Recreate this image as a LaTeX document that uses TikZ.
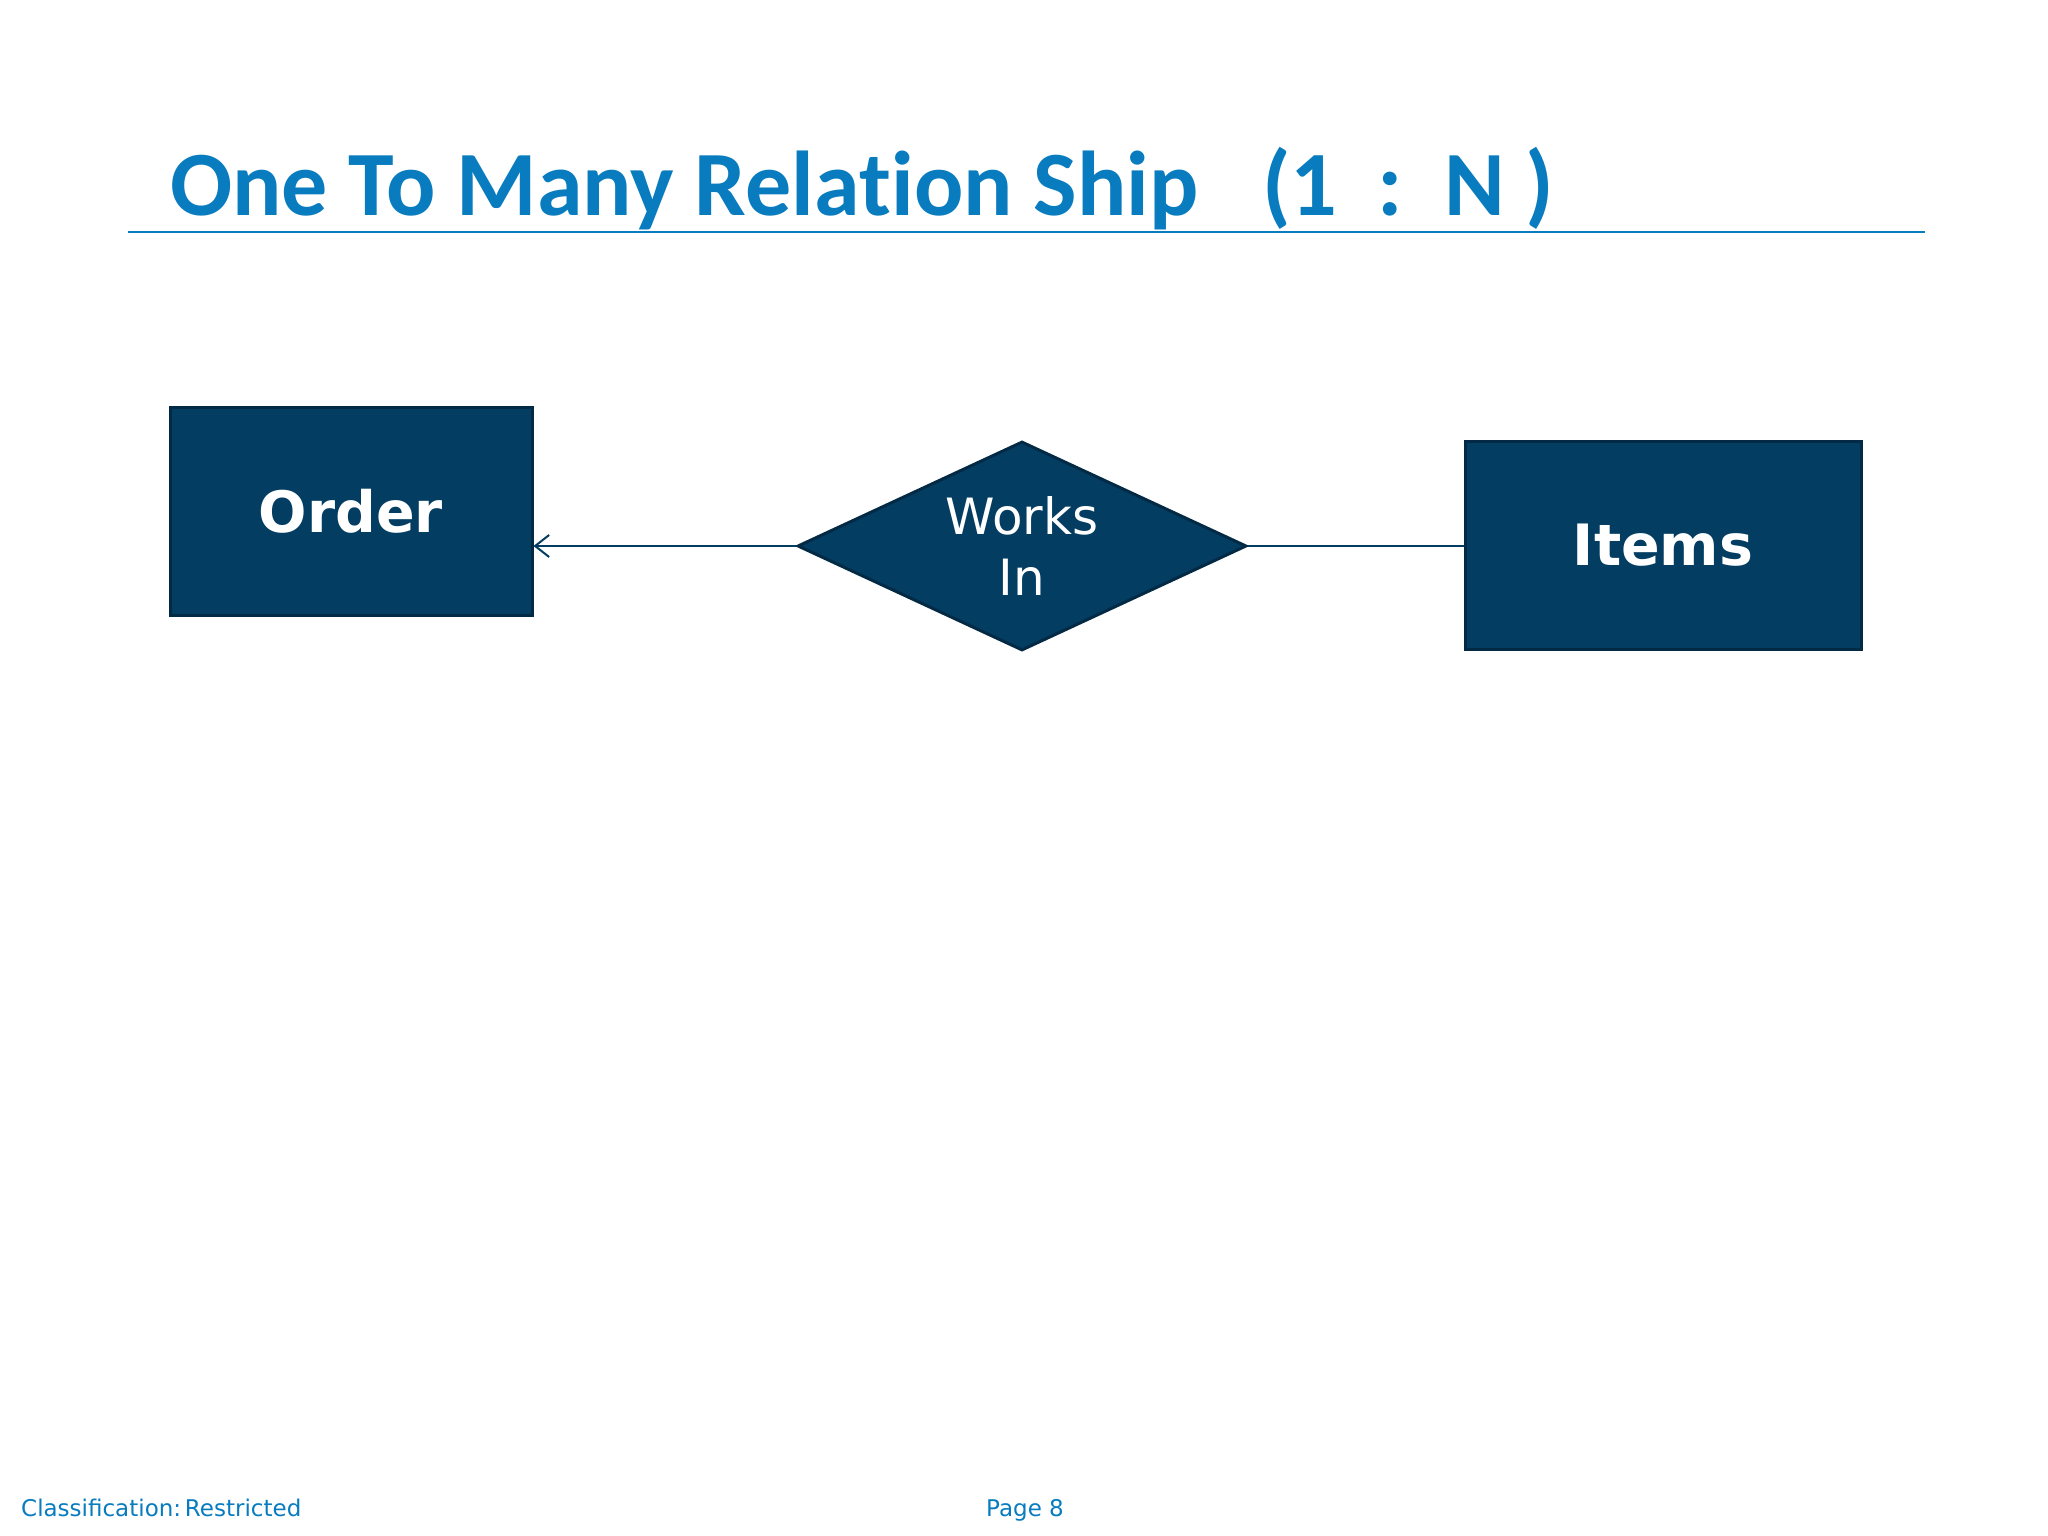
\documentclass[tikz,border=0pt]{standalone}
\usepackage{fontspec}
\setmainfont{DejaVu Sans}
\newfontfamily\titlefont[Ligatures={NoCommon,NoContextual}]{Carlito}
\usetikzlibrary{shapes.geometric,arrows.meta}
\definecolor{titleblue}{RGB}{8,124,190}
\definecolor{navy}{RGB}{3,61,98}
\definecolor{navyedge}{RGB}{2,42,68}
\tikzset{
  entity/.style={draw=navyedge, line width=3pt, fill=navy, inner sep=0pt, text=white, font=\fontsize{57}{60}\selectfont\bfseries},
  relation/.style={diamond, aspect=2.15, draw=navyedge, line width=3pt, fill=navy, inner sep=0pt, text=white, align=center, font=\fontsize{50}{61}\selectfont},
  titletext/.style={anchor=base west, inner sep=0pt, text=titleblue, font=\titlefont\fontsize{92}{100}\selectfont\bfseries},
  foot/.style={anchor=base west, inner sep=0pt, text=titleblue, font=\fontsize{23}{26}\selectfont},
  link/.style={draw=navy, line width=2pt}
}
\begin{document}
\begin{tikzpicture}[x=1pt,y=-1pt]
\useasboundingbox (0,0) rectangle (2048,1536);
\fill[white] (0,0) rectangle (2048,1536);
% title
\node[titletext] (t1) at (170,215) {One To Many Rela\kern0pt tion Ship};
\node[titletext] (t2) at (1262,215) {(1};
\node[titletext] (t3) at (1377,215) {:};
\node[titletext] (t4) at (1444,215) {N )};
\draw[titleblue, line width=1.5pt] (128,232) coordinate (r1) -- (1925,232) coordinate (r2);
% entities
\node[entity, minimum width=362pt, minimum height=208pt] (order) at (351,511) {Order};
\node[relation, minimum width=449pt, minimum height=209pt] (works) at (1022,546) {Works\\In};
\node[entity, minimum width=396pt, minimum height=208pt] (items) at (1663,545) {Items};
\draw[link, -{Straight Barb[length=14pt,width=22pt,line width=2pt]}] (works.west) -- (order.east |- works.west);
\draw[link] (works.east) -- (items.west |- works.east);
% footer
\node[foot] (cls) at (21,1516) {Classification:\,Restricted};
\node[foot] (pg) at (986,1516) {Page 8};
\end{tikzpicture}
\end{document}
